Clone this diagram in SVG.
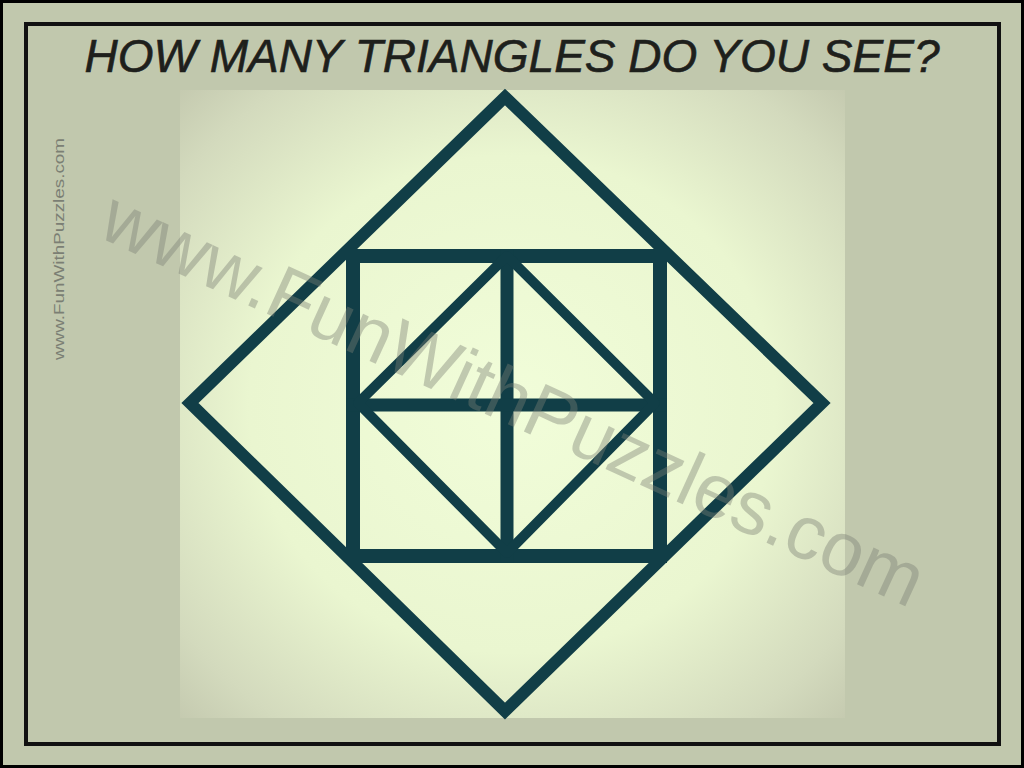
<svg xmlns="http://www.w3.org/2000/svg" width="1024" height="768" viewBox="0 0 1024 768">
<defs>
<radialGradient id="pg" cx="0.5" cy="0.5" r="0.72">
<stop offset="0" stop-color="#f1fdd9"/>
<stop offset="0.55" stop-color="#eaf6d0"/>
<stop offset="0.85" stop-color="#d3dabd"/>
<stop offset="1" stop-color="#c3c8ae"/>
</radialGradient>
<style>
.ln{stroke:#113e47;fill:none;stroke-linecap:square}
.wm{font-family:"Liberation Sans",Arial,sans-serif;fill:#7b7f74}
</style>
</defs>
<rect x="0" y="0" width="1024" height="768" fill="#c1c8ad"/>
<rect x="1.5" y="1.5" width="1021" height="765" fill="none" stroke="#000" stroke-width="3"/>
<rect x="26" y="24" width="973" height="720" fill="none" stroke="#111" stroke-width="4"/>
<text x="512" y="72" text-anchor="middle" font-family="Liberation Sans, Arial, sans-serif" font-style="italic" font-size="46" fill="#1e201c" stroke="#1e201c" stroke-width="0.6" textLength="855" lengthAdjust="spacingAndGlyphs">HOW MANY TRIANGLES DO YOU SEE?</text>
<g id="panel"><rect x="180" y="90" width="665" height="628" fill="url(#pg)"/></g>
<g id="outer-diamond"><polygon class="ln" stroke-width="12" stroke-linejoin="miter" points="505,97 190,403 505,711 822,403"/></g>
<g id="square"><rect class="ln" x="353" y="256" width="307" height="300" stroke-width="14"/></g>
<g id="connectors">
<line class="ln" x1="507" y1="256" x2="507" y2="556" stroke-width="13"/>
<line class="ln" x1="353" y1="405" x2="660" y2="405" stroke-width="13"/>
<polygon class="ln" stroke-width="10" stroke-linejoin="round" points="507,256 358,403 507,553 655,403"/>
</g>
<text class="wm" font-size="15" transform="translate(64,360) rotate(-90)" textLength="222" lengthAdjust="spacingAndGlyphs">www.FunWithPuzzles.com</text>
<text class="wm" font-size="76" opacity="0.4" text-anchor="middle" transform="translate(503,422) rotate(24.6)" textLength="895" lengthAdjust="spacingAndGlyphs">www.FunWithPuzzles.com</text>
</svg>
